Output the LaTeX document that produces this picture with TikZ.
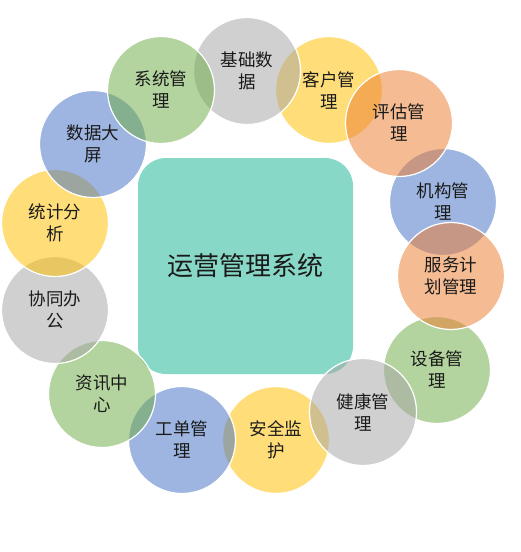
\documentclass[tikz,border=0pt]{standalone}
\usepackage{fontspec}
\newfontfamily\cjk{Noto Sans CJK SC}
\definecolor{cgreen}{HTML}{70AD47}
\definecolor{cgray}{HTML}{A5A5A5}
\definecolor{cgold}{HTML}{FFC000}
\definecolor{corange}{HTML}{ED7D31}
\definecolor{cblue}{HTML}{4472C4}
\definecolor{cteal}{HTML}{88D8C8}
\definecolor{ctext}{HTML}{1A1A1A}
\tikzset{
  bub/.style={circle, minimum size=107pt, inner sep=0pt, fill=#1, fill opacity=0.52,
    draw=white, draw opacity=1, line width=1.2pt, text opacity=1, text=ctext,
    font=\cjk\fontsize{17.5}{22}\selectfont, align=center},
  core/.style={rounded corners=28pt, fill=cteal, draw=none, minimum width=215pt,
    minimum height=216pt, font=\cjk\fontsize{26}{30}\selectfont, text=ctext}
}
\begin{document}
\begin{tikzpicture}[x=1pt,y=-1pt]
\useasboundingbox (0,0) rectangle (520,552);
\fill[white] (0,0) rectangle (520,552);
\node[core] (core) at (245.5,266) {运营管理系统};
\node[bub=cgold]   (b6)  at (329,90)  {客户管\\理};
\node[bub=cblue]   (b8)  at (443,202) {机构管\\理};
\node[bub=corange] (b7)  at (399,123) {评估管\\理};
\node[bub=cgreen]  (b10) at (437,370) {设备管\\理};
\node[bub=corange] (b9)  at (451,276) {服务计\\划管理};
\node[bub=cgold]   (b12) at (276,440) {安全监\\护};
\node[bub=cgray]   (b11) at (363,412) {健康管\\理};
\node[bub=cblue]   (b13) at (182,440) {工单管\\理};
\node[bub=cgreen]  (b14) at (102,394) {资讯中\\心};
\node[bub=cgray]   (b1)  at (55,310)  {协同办\\公};
\node[bub=cgold]   (b2)  at (55,223)  {统计分\\析};
\node[bub=cblue]   (b3)  at (93,144)  {数据大\\屏};
\node[bub=cgray]   (b5)  at (247,71)  {基础数\\据};
\node[bub=cgreen]  (b4)  at (161,90)  {系统管\\理};
\end{tikzpicture}
\end{document}
